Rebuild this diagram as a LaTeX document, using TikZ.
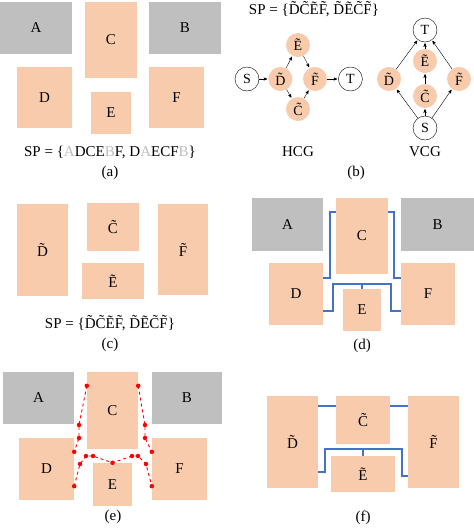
\documentclass[tikz,border=0pt]{standalone}
\usepackage{fontspec}
\setmainfont{Liberation Serif}[Ligatures=TeX]
\usetikzlibrary{arrows,positioning}
\definecolor{peach}{HTML}{F8CBAD}
\definecolor{blkgray}{HTML}{BFBFBF}
\definecolor{txgray}{HTML}{BDBDBD}
\definecolor{lnblue}{HTML}{4472C4}
\newcommand{\tld}[1]{\~{#1}}

\begin{document}
\begin{tikzpicture}[x=1pt,y=-1pt,>=stealth',
  every node/.style={font=\fontsize{15}{17}\selectfont},
  gblk/.style={fill=blkgray,inner sep=0pt},
  pblk/.style={fill=peach,inner sep=0pt},
  cnode/.style={circle,draw,thin,minimum size=24pt,inner sep=0pt,font=\fontsize{14}{16}\selectfont},
  fnode/.style={circle,fill=peach,minimum size=24pt,inner sep=0pt,font=\fontsize{14}{16}\selectfont},
  gedge/.style={->,thin,shorten >=1pt},
  bline/.style={lnblue,line width=2.4pt},
  rdash/.style={red,dashed,line width=0.9pt},
  rdot/.style={circle,fill=red,inner sep=0pt,minimum size=4.5pt}]
  \useasboundingbox (0,0) rectangle (474,528);

  % (a) the layout
  \node[gblk,minimum width=72pt,minimum height=52pt] (aA) at (36,28) {A};
  \node[pblk,minimum width=52pt,minimum height=76pt] (aC) at (111,40) {C};
  \node[gblk,minimum width=72pt,minimum height=52pt] (aB) at (185,28) {B};
  \node[pblk,minimum width=55pt,minimum height=61pt] (aD) at (44.5,97.5) {D};
  \node[pblk,minimum width=40pt,minimum height=42pt] (aE) at (111,113) {E};
  \node[pblk,minimum width=55pt,minimum height=61pt] (aF) at (176.5,97.5) {F};
  \node (spa) at (110,152) {SP = \{\textcolor{txgray}{A}DCE\textcolor{txgray}{B}F, D\textcolor{txgray}{A}ECF\textcolor{txgray}{B}\}};
  \node (la) at (110,173) {(a)};

  % (b) constraint graphs
  \node (spb) at (314,9) {SP = \{\tld{D}\tld{C}\tld{E}\tld{F}, \tld{D}\tld{E}\tld{C}\tld{F}\}};
  \node[cnode] (hS) at (247,79) {S};
  \node[fnode,right=9pt of hS] (hD) {\tld{D}};
  \node[fnode] (hE) at (298,45) {\tld{E}};
  \node[fnode] (hC) at (298,109) {\tld{C}};
  \node[fnode] (hF) at (315,79) {\tld{F}};
  \node[cnode,right=11pt of hF] (hT) {T};
  \path[gedge] (hS) edge (hD)
        (hD) edge (hE)
             edge (hC)
        (hE) edge (hF)
        (hC) edge (hF)
        (hF) edge (hT);

  \node[cnode] (vT) at (425,30) {T};
  \node[fnode] (vE) at (425,61) {\tld{E}};
  \node[fnode] (vC) at (425,96) {\tld{C}};
  \node[cnode] (vS) at (425,128) {S};
  \node[fnode] (vD) at (389,79) {\tld{D}};
  \node[fnode] (vF) at (459,79) {\tld{F}};
  \path[gedge] (vS) edge (vD)
             edge (vC)
             edge (vF)
        (vC) edge (vE)
        (vE) edge (vT)
        (vD) edge (vT)
        (vF) edge (vT);
  \node (hcg) at (298,152) {HCG};
  \node (vcg) at (425,152) {VCG};
  \node (lb) at (356,173) {(b)};

  % (c) reduced layout
  \node[pblk,minimum width=51pt,minimum height=92pt] (cD) at (42.5,250) {\tld{D}};
  \node[pblk,minimum width=52pt,minimum height=48pt] (cC) at (113,227) {\tld{C}};
  \node[pblk,minimum width=62pt,minimum height=36pt] (cE) at (113,281) {\tld{E}};
  \node[pblk,minimum width=50pt,minimum height=91pt] (cF) at (183,249.5) {\tld{F}};
  \node (spc) at (110,323) {SP = \{\tld{D}\tld{C}\tld{E}\tld{F}, \tld{D}\tld{E}\tld{C}\tld{F}\}};
  \node (lc) at (110,345) {(c)};

  % (d) layout with channels
  \node[gblk,minimum width=71pt,minimum height=53pt] (dA) at (287.5,224.5) {A};
  \node[pblk,minimum width=52pt,minimum height=76pt] (dC) at (362,236) {C};
  \node[gblk,minimum width=73pt,minimum height=53pt] (dB) at (437.5,224.5) {B};
  \node[pblk,minimum width=54pt,minimum height=62pt] (dD) at (296,294) {D};
  \node[pblk,minimum width=38pt,minimum height=42pt] (dE) at (362,310) {E};
  \node[pblk,minimum width=54pt,minimum height=62pt] (dF) at (428,294) {F};
  \draw[bline] ([yshift=-14pt]dC.north west) -- ++(-6,0) |- ([yshift=-15pt]dD.north east);
  \draw[bline] ([yshift=-14pt]dC.north east) -- ++(6,0) |- ([yshift=-15pt]dF.north west);
  \draw[bline] ([yshift=14pt]dD.south east) -- ++(10,0) -- ++(0,-27) -- ++(58,0) |- ([yshift=14pt]dF.south west);
  \draw[bline] (dE.north) -- ++(0,-5);
  \node (ld) at (362,346) {(d)};

  % (e) layout with routes
  \node[gblk,minimum width=71pt,minimum height=52pt] (eA) at (38.5,398) {A};
  \node[pblk,minimum width=51pt,minimum height=77pt] (eC) at (112.5,410.5) {C};
  \node[gblk,minimum width=70pt,minimum height=52pt] (eB) at (187,398) {B};
  \node[pblk,minimum width=55pt,minimum height=62pt] (eD) at (46.5,469) {D};
  \node[pblk,minimum width=39pt,minimum height=43pt] (eE) at (112.5,484.5) {E};
  \node[pblk,minimum width=55pt,minimum height=62pt] (eF) at (179.5,469) {F};
  \draw[rdash] ([yshift=-14pt]eC.north west) node[rdot]{} -- (79,425) node[rdot]{}
     -- (79,438) node[rdot]{} -- ([yshift=-14pt]eD.north east) node[rdot]{};
  \draw[rdash] ([yshift=-14pt]eC.north east) node[rdot]{} -- (145,425) node[rdot]{}
     -- (145,438) node[rdot]{} -- ([yshift=-14pt]eF.north west) node[rdot]{};
  \draw[rdash] ([yshift=14pt]eD.south east) node[rdot]{} -- (80,464) node[rdot]{}
     -- (86,456) node[rdot]{} -- (93,456) node[rdot]{} -- (eE.north) node[rdot]{}
     -- (132,456) node[rdot]{} -- (138,456) node[rdot]{} -- (146,464) node[rdot]{}
     -- ([yshift=14pt]eF.south west) node[rdot]{};
  \node (le) at (113,517) {(e)};

  % (f) reduced layout with channels
  \node[pblk,minimum width=51pt,minimum height=92pt] (fD) at (292.5,442) {\tld{D}};
  \node[pblk,minimum width=54pt,minimum height=48pt] (fC) at (363,420) {\tld{C}};
  \node[pblk,minimum width=64pt,minimum height=36pt] (fE) at (363,474) {\tld{E}};
  \node[pblk,minimum width=51pt,minimum height=92pt] (fF) at (433.5,442) {\tld{F}};
  \draw[bline] ([yshift=-10pt]fD.north east) -- ([yshift=-10pt]fC.north west);
  \draw[bline] ([yshift=-10pt]fC.north east) -- ([yshift=-10pt]fF.north west);
  \draw[bline] ([yshift=16pt]fD.south east) -- ++(7,0) -- ++(0,-23) -- ++(77,0) |- ([yshift=12pt]fF.south west);
  \draw[bline] (fE.north) -- ++(0,-7);
  \node (lf) at (363,518) {(f)};
\end{tikzpicture}
\end{document}
